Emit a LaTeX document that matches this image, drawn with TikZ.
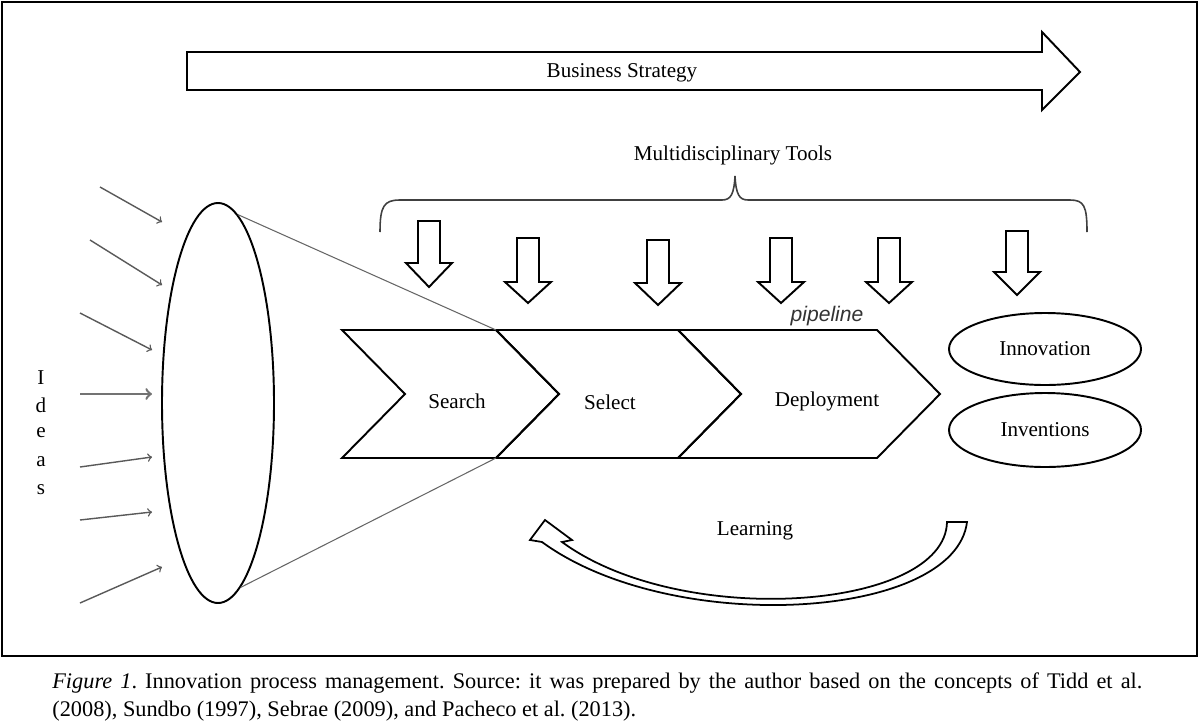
\documentclass[tikz,border=0pt]{standalone}
\usepackage{fontspec}
\setmainfont{Liberation Serif}
\newfontfamily\pipefont{Liberation Sans}
\usetikzlibrary{shapes.geometric,positioning}
\frenchspacing
\tikzset{
	oval/.style={
		ellipse,
		draw,
		line width=1.1pt,
		inner sep=0pt
	}
}

\begin{document}
\begin{tikzpicture}[x=0.2mm,y=-0.2mm]
	\tikzstyle{txt}=[font=\fontsize{12}{14}\selectfont, inner sep=0pt]
	\tikzstyle{block}=[line width=1.1pt, draw=black, line join=miter]
	\tikzstyle{idea}=[->, line width=0.8pt, draw=black!65]
	\tikzstyle{thinline}=[line width=0.6pt, draw=black!60]
	\tikzstyle{caption}=[font=\fontsize{12.7}{15}\selectfont, inner sep=0pt, anchor=base west]
	\useasboundingbox (0,0) rectangle (1200,724);
	\draw[line width=1.5pt] (2,2) rectangle (1197,656);

	% strategy arrow
	\draw[block] (187,52) -- (1042,52) -- (1042,32) -- (1080,72) -- (1042,110) -- (1042,90) -- (187,90) -- cycle;
	\node[txt] (strategy) at (622,73) {Business Strategy};

	% tools and brace
	\node[txt] (tools) at (733,155) {Multidisciplinary Tools};
	\draw[thinline, line width=0.9pt, draw=black!75] (380,232) .. controls (380,206) and (384,200) .. (400,200) -- (722,200) .. controls (731,200) and (734,194) .. (735,176) .. controls (736,194) and (739,200) .. (748,200) -- (1070,200) .. controls (1084,200) and (1087,206) .. (1087,232);
	\foreach \x/\t/\b/\e in {429/221/263/287, 528/238/282/303, 658/240/283/305, 781/238/282/303, 889/238/282/303, 1017/231/272/295}
		\draw[block] (\x-11,\t) -- (\x+11,\t) -- (\x+11,\b) -- (\x+23,\b) -- (\x,\e) -- (\x-23,\b) -- (\x-11,\b) -- cycle;

	% pipeline
	\foreach \l/\r in {342/496, 496/678, 678/877}
		\draw[block] (\l,330) -- (\r,330) -- (\r+63,394) -- (\r,458) -- (\l,458) -- (\l+63,394) -- cycle;
	\coordinate (ctop) at (496,330);
	\coordinate (cbot) at (496,458);
	\node[txt] (search) at (457,401) {Search};
	\node[txt] (select) at (610,402) {Select};
	\node[txt] (deploy) at (827,401) {Deployment};
	\node[font=\pipefont\itshape\fontsize{12}{14}\selectfont, text=black!80, inner sep=0pt] (pipe) at (827,316) {pipeline};

	% results
	\node[oval, minimum width=38.4mm, minimum height=14.4mm, font=\fontsize{12}{14}\selectfont] (innov) at (1045,349) {Innovation};
	\node[oval, minimum width=38.4mm, minimum height=14.8mm, font=\fontsize{12}{14}\selectfont] (invent) at (1045,430) {Inventions};

	% funnel
	\node[oval, minimum width=22.4mm, minimum height=80mm] (funnel) at (218,403) {};
	\draw[thinline] (funnel.84) -- (ctop);
	\draw[thinline] (funnel.-83) -- (cbot);

	% ideas
	\foreach \c/\y in {I/378, d/405, e/433, a/462, s/490}
		\node[txt] (letter\c) at (41,\y) {\c};
	\foreach \n/\sx/\sy/\ex/\ey in {1/100/187/162/222, 2/90/240/162/285, 3/80/313/152/350, 5/80/467/152/457, 6/80/520/152/512, 7/80/603/162/567} {
		\coordinate (s\n) at (\sx,\sy);
		\coordinate (e\n) at (\ex,\ey);
		\draw[idea] (s\n) -- (e\n);
	}
	\coordinate (s4) at (80,394);
	\coordinate (e4) at (152,394);
	\draw[idea, line width=1.4pt, draw=black!55] (s4) -- (e4);

	% learning loop
	\draw[block, line width=1pt] (967,522) -- (947,522) .. controls (945,610) and (682,630) .. (562,542) -- (572,540) -- (545,520) -- (530,540) -- (542,542) .. controls (672,637) and (955,620) .. (967,522) -- cycle;
	\node[txt] (learn) at (755,531) {Learning};

	% caption
	\node[caption] (cap1) at (52,688) {\makebox[218mm][s]{\textit{Figure 1}. Innovation process management. Source: it was prepared by the author based on the concepts of Tidd et al.}};
	\node[caption] (cap2) at (52,716) {(2008), Sundbo (1997), Sebrae (2009), and Pacheco et al. (2013).};
\end{tikzpicture}
\end{document}
